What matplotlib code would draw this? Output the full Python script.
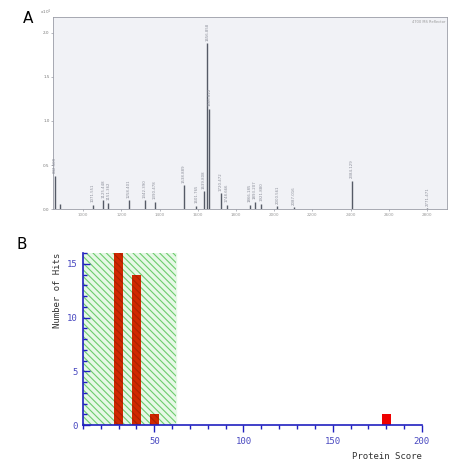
import matplotlib
matplotlib.use("Agg")
import matplotlib.pyplot as plt

# Panel A: mass spectrum peaks (m/z, intensity x10^4)
peak_mz = [850.5, 880.1, 1050.6, 1106.3, 1132.4, 1240.2, 1323.7, 1375.9, 1527.2, 1593.3,
           1631.6, 1649.0, 1659.4, 1720.3, 1751.6, 1871.6, 1899.3, 1932.4, 2015.9, 2102.9, 2405.4, 2801.9]
peak_int = [0.38, 0.06, 0.05, 0.10, 0.07, 0.10, 0.10, 0.08, 0.27, 0.04,
            0.20, 1.88, 1.14, 0.18, 0.05, 0.05, 0.08, 0.06, 0.03, 0.02, 0.32, 0.01]
peak_lbl = ["842.509", "", "1071.551", "1125.448", "1151.362", "1258.401", "1342.390", "1390.478",
            "1538.889", "1601.765", "1639.808", "1656.858", "1666.822", "1720.472", "1748.666",
            "1866.185", "1893.207", "1921.880", "2000.561", "2087.016", "2384.129", "2771.471"]
a_yticks = [0.0, 0.5, 1.0, 1.5, 2.0]

# Panel B: Mascot score histogram
score_bins = [30, 40, 50, 180]
hits = [16, 14, 1, 1]
b_xticks = [50, 100, 150, 200]
b_yticks = [0, 5, 10, 15]

plt.rcParams["hatch.linewidth"] = 0.8
fig = plt.figure(figsize=(4.74, 4.74), dpi=100)
fig.patch.set_facecolor("white")

# ---- Panel A ----
axA = fig.add_axes([0.112, 0.559, 0.831, 0.405])
axA.set_facecolor("#f1f2f6")
gc = "#9a9ca6"
axA.vlines(peak_mz, 0, peak_int, color="#555a66", lw=1.0)
for m, v, l in zip(peak_mz, peak_int, peak_lbl):
    if l:
        axA.text(m, v + 0.03, l, rotation=90, fontsize=2.8, color="#8a8d98", ha="center", va="bottom")
axA.set_xlim(843, 2904)
axA.set_ylim(0, 2.18)
axA.set_yticks(a_yticks)
axA.set_yticklabels(["%.1f" % t for t in a_yticks], fontsize=3, color="#777")
xt = list(range(1000, 2901, 200))
axA.set_xticks(xt)
axA.set_xticklabels([str(t) for t in xt], fontsize=3, color="#999")
axA.tick_params(length=1.5, width=0.5, color=gc, pad=1)
for s in axA.spines.values():
    s.set_color(gc); s.set_linewidth(0.6)
axA.text(0.995, 0.985, "4700 MS Reflector", transform=axA.transAxes, fontsize=2.6, color="#999", ha="right", va="top")
axA.text(-0.005, 1.0, "x10$^4$", transform=axA.transAxes, fontsize=3, color="#777", ha="right", va="bottom")
fig.text(0.048, 0.96, "A", fontsize=11, ha="left", va="center")

# ---- Panel B ----
blue = "#2020c0"
axB = fig.add_axes([0.175, 0.103, 0.715, 0.363])
axB.axvspan(10, 62, color="#e6f8e6", zorder=0)
axB.axvspan(10, 62, facecolor="none", edgecolor="#6ccc6c", hatch="\\\\\\\\\\", lw=0, zorder=1)
axB.bar(score_bins[:3], hits[:3], width=5, color="#d02800", edgecolor="#a82000", lw=0,
        hatch="\\\\\\\\\\", zorder=2)
axB.bar(score_bins[3:], hits[3:], width=5, color="#ee0000", zorder=2)
axB.set_xlim(10, 200)
axB.set_ylim(0, 16)
axB.set_xticks(b_xticks)
axB.set_xticks(range(10, 201, 10), minor=True)
axB.set_yticks(b_yticks)
axB.set_yticks(range(0, 17), minor=True)
for lbl in axB.get_xticklabels() + axB.get_yticklabels():
    lbl.set_fontfamily("DejaVu Sans Mono"); lbl.set_fontsize(6.5); lbl.set_color("#4848c0")
axB.tick_params(which="both", color=blue, width=1, direction="out")
axB.tick_params(which="major", length=5)
axB.tick_params(which="minor", length=3)
axB.tick_params(axis="y", which="both", direction="in")
for k in ["top", "right"]:
    axB.spines[k].set_visible(False)
for k in ["left", "bottom"]:
    axB.spines[k].set_color(blue); axB.spines[k].set_linewidth(1.2)
axB.set_xlabel("Protein Score", fontfamily="DejaVu Sans Mono", fontsize=6.5, loc="right", color="#333")
axB.set_ylabel("Number of Hits", fontfamily="DejaVu Sans Mono", fontsize=6.5, loc="top", color="#333")
fig.text(0.035, 0.485, "B", fontsize=11, ha="left", va="center")

fig.savefig("out.png", dpi=100)
